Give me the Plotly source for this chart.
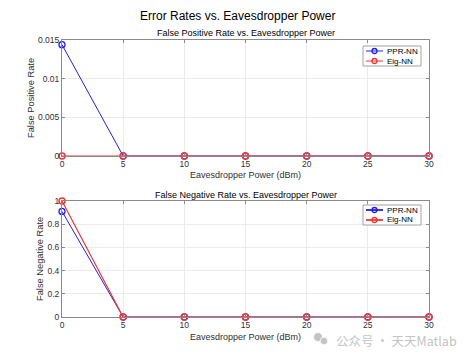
import plotly.graph_objects as go

power = [0, 5, 10, 15, 20, 25, 30]
fpr_ppr = [0.0144, 0, 0, 0, 0, 0, 0]
fpr_eig = [0, 0, 0, 0, 0, 0, 0]
fnr_ppr = [0.91, 0, 0, 0, 0, 0, 0]
fnr_eig = [1.0, 0, 0, 0, 0, 0, 0]
x_ticks = [0, 5, 10, 15, 20, 25, 30]
fpr_ticks = [0, 0.005, 0.01, 0.015]
fpr_ticklabels = ["0", "0.005", "0.01", "0.015"]
fnr_ticks = [0, 0.2, 0.4, 0.6, 0.8, 1]
fnr_ticklabels = ["0", "0.2", "0.4", "0.6", "0.8", "1"]

W, H = 474, 355
FONT = "Liberation Sans, Arial, sans-serif"
AX = "#8a8a8a"
TXT = "#303030"
BLUE = "#2020e0"
RED = "#f03535"

fig = go.Figure()

def add_pair(y1, y2, xa, ya):
    fig.add_trace(go.Scatter(x=power, y=y1, mode="lines+markers", name="PPR-NN",
                             line=dict(color=BLUE, width=1),
                             marker=dict(symbol="circle-open", size=6, color=BLUE, line=dict(width=1.3)),
                             xaxis=xa, yaxis=ya, showlegend=False, cliponaxis=False))
    fig.add_trace(go.Scatter(x=power, y=y2, mode="lines+markers", name="Eig-NN",
                             line=dict(color=RED, width=1.2),
                             marker=dict(symbol="circle-open", size=6, color=RED, line=dict(width=1.5)),
                             xaxis=xa, yaxis=ya, showlegend=False, cliponaxis=False))

add_pair(fpr_ppr, fpr_eig, "x", "y")
add_pair(fnr_ppr, fnr_eig, "x2", "y2")

x0, x1 = 62 / W, 429 / W
top_dom = [1 - 156 / H, 1 - 40 / H]
bot_dom = [1 - 317 / H, 1 - 201 / H]

axcommon = dict(showline=True, linecolor=AX, linewidth=1, mirror="ticks", ticks="inside",
                ticklen=3, tickcolor=AX, showgrid=True, gridcolor="#ebebeb", gridwidth=1,
                zeroline=False, automargin=False, tickfont=dict(family=FONT, size=8.5, color=TXT))

fig.update_layout(
    width=W, height=H, margin=dict(l=0, r=0, t=0, b=0, pad=0), autosize=False,
    paper_bgcolor="white", plot_bgcolor="white", showlegend=False,
    xaxis=dict(domain=[x0, x1], range=[0, 30], tickvals=x_ticks, anchor="y", **axcommon),
    yaxis=dict(domain=top_dom, range=[0, 0.015], tickvals=fpr_ticks, ticktext=fpr_ticklabels,
               anchor="x", **axcommon),
    xaxis2=dict(domain=[x0, x1], range=[0, 30], tickvals=x_ticks, anchor="y2", **axcommon),
    yaxis2=dict(domain=bot_dom, range=[0, 1], tickvals=fnr_ticks, ticktext=fnr_ticklabels,
                anchor="x2", **axcommon),
)

def ann(text, x, y, size, color=TXT, angle=0, family=FONT, xanchor="center"):
    fig.add_annotation(text=text, x=x / W, y=1 - y / H, xref="paper", yref="paper",
                       showarrow=False, textangle=angle, xanchor=xanchor, yanchor="middle",
                       font=dict(family=family, size=size, color=color))

ann("Error Rates vs. Eavesdropper Power", 237, 16, 12, color="#000000")
ann("False Positive Rate vs. Eavesdropper Power", 246, 33, 9, color="#000000")
ann("False Negative Rate vs. Eavesdropper Power", 246, 195, 9, color="#000000")
ann("Eavesdropper Power (dBm)", 245, 175, 9)
ann("Eavesdropper Power (dBm)", 245, 337, 9)
ann("False Positive Rate", 31, 98, 9.3, angle=-90)
ann("False Negative Rate", 40, 259, 9.3, angle=-90)

def legend_box(ytop, lw):
    lx0, lx1 = 363, 421
    fig.add_shape(type="rect", x0=lx0 / W, x1=lx1 / W, y0=1 - (ytop + 20) / H, y1=1 - ytop / H,
                  xref="paper", yref="paper", line=dict(color=AX, width=0.8), fillcolor="white")
    for i, (name, col) in enumerate([("PPR-NN", BLUE), ("Eig-NN", RED)]):
        yy = ytop + 5 + i * 10
        fig.add_shape(type="line", x0=(lx0 + 3) / W, x1=(lx0 + 20) / W, y0=1 - yy / H, y1=1 - yy / H,
                      xref="paper", yref="paper", line=dict(color=col, width=lw))
        fig.add_shape(type="circle", x0=(lx0 + 9) / W, x1=(lx0 + 14) / W,
                      y0=1 - (yy + 2.5) / H, y1=1 - (yy - 2.5) / H,
                      xref="paper", yref="paper", line=dict(color=col, width=1.3))
        ann(name, lx0 + 22, yy, 8, color="#000000", xanchor="left")

legend_box(46, 1)
legend_box(205, 1.8)

# watermark
for cx, cy, r in [(318, 337, 4.5), (324, 341, 3.8)]:
    fig.add_shape(type="circle", x0=(cx - r) / W, x1=(cx + r) / W,
                  y0=1 - (cy + r) / H, y1=1 - (cy - r) / H,
                  xref="paper", yref="paper", line=dict(color="white", width=0.8),
                  fillcolor="#c4c4c4")
ann("公众号 · 天天Matlab", 396, 340, 12.5, color="#c4c4c4",
    family="Noto Sans CJK SC, sans-serif")

fig.write_html("out.html", config={"displayModeBar": False},
               post_script="document.body.style.margin='0';document.body.style.overflow='hidden';")
